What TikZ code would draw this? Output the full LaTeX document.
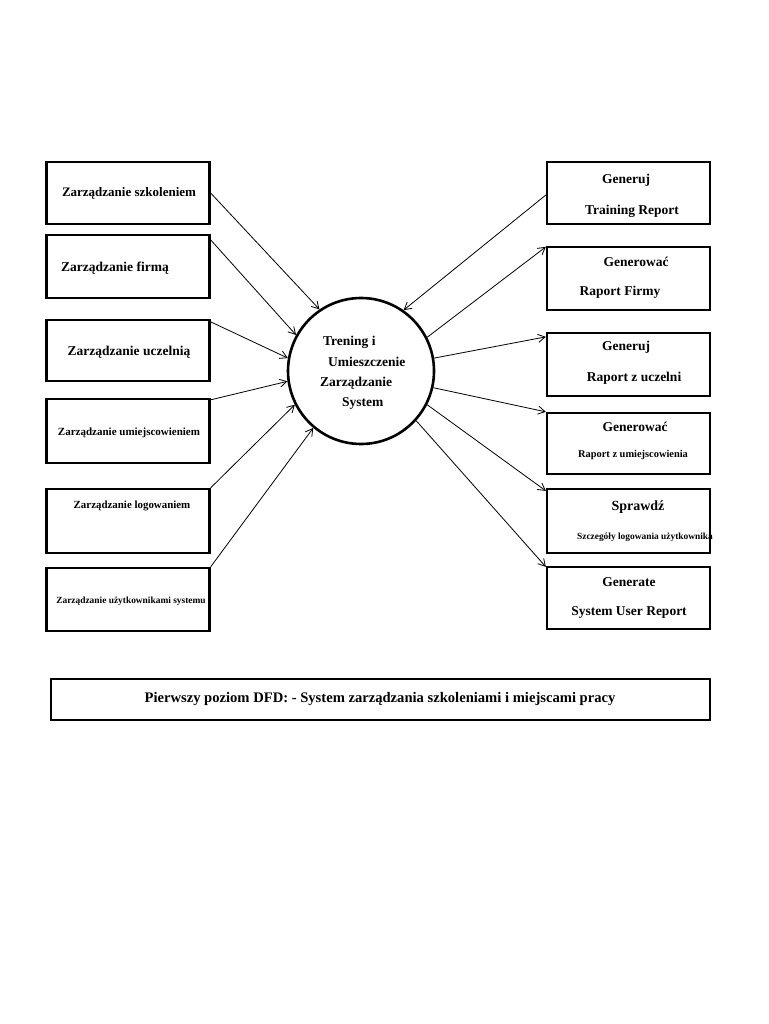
\documentclass[tikz,border=0pt]{standalone}
\usepackage{fontspec}
\setmainfont{Liberation Serif}
\usetikzlibrary{arrows.meta}
\newcommand{\fs}[1]{\bfseries\fontsize{#1}{#1}\selectfont}
\begin{document}
\begin{tikzpicture}[x=1pt,y=-1pt,
  box/.style={draw, line width=2.3pt, minimum width=163pt, inner sep=0pt},
  txt/.style={inner sep=0pt, font=\fs{13.5}},
  flow/.style={line width=0.8pt, -{Straight Barb[length=7pt,width=8pt]}}]
\useasboundingbox[fill=white] (0,0) rectangle (768,1024);

% left boxes
\node[box, minimum height=62pt] (l1) at (128,193) {};
\node[box, minimum height=63pt] (l2) at (128,266.5) {};
\node[box, minimum height=61pt] (l3) at (128,350.5) {};
\node[box, minimum height=64pt] (l4) at (128,431) {};
\node[box, minimum height=64pt] (l5) at (128,521) {};
\node[box, minimum height=63pt] (l6) at (128,599.5) {};

% right boxes
\node[box, minimum height=62pt] (r1) at (628.5,193) {};
\node[box, minimum height=63pt] (r2) at (628.5,278.5) {};
\node[box, minimum height=63pt] (r3) at (628.5,364.5) {};
\node[box, minimum height=61pt] (r4) at (628.5,443.5) {};
\node[box, minimum height=64pt] (r5) at (628.5,521) {};
\node[box, minimum height=62pt] (r6) at (628.5,598) {};

% bottom caption box
\node[box, minimum width=659pt, minimum height=41pt] (cap) at (380.5,699.5) {};
\node[txt, font=\fs{14.6}] (capt) at (380,699) {Pierwszy poziom DFD: - System zarządzania szkoleniami i miejscami pracy};

% central process
\node[circle, draw, line width=2.6pt, minimum size=146pt, inner sep=0pt] (c) at (361,371) {};
\node[txt, anchor=west] (c1) at (323,342) {Trening i};
\node[txt, anchor=west] (c2) at (328,362) {Umieszczenie};
\node[txt, anchor=west] (c3) at (320,383) {Zarządzanie};
\node[txt, anchor=west] (c4) at (342,403) {System};

% left texts
\node[txt, font=\fs{13}] (t1) at (129,193) {Zarządzanie szkoleniem};
\node[txt] (t2) at (115,268) {Zarządzanie firmą};
\node[txt] (t3) at (129,352) {Zarządzanie uczelnią};
\node[txt, font=\fs{11}] (t4) at (129,433) {Zarządzanie umiejscowieniem};
\node[txt, font=\fs{10.9}] (t5) at (132,506) {Zarządzanie logowaniem};
\node[txt, font=\fs{9.4}] (t6) at (131,601) {Zarządzanie użytkownikami systemu};

% right texts
\node[txt] (r1a) at (626,180) {Generuj};
\node[txt] (r1b) at (632,211) {Training Report};
\node[txt] (r2a) at (636,262) {Generować};
\node[txt] (r2b) at (620,292) {Raport Firmy};
\node[txt] (r3a) at (626,347) {Generuj};
\node[txt] (r3b) at (634,378) {Raport z uczelni};
\node[txt] (r4a) at (635,427) {Generować};
\node[txt, font=\fs{10.4}] (r4b) at (633,455) {Raport z umiejscowienia};
\node[txt, font=\fs{14}] (r5a) at (638,507) {Sprawdź};
\node[txt, font=\fs{9.4}] (r5b) at (645,537) {Szczegóły logowania użytkownika};
\node[txt] (r6a) at (629,582) {Generate};
\node[txt] (r6b) at (629,612) {System User Report};

% flows into process
\draw[flow] (l1.east) -- (c.124);
\draw[flow] ([yshift=-6pt]l2.north east) -- (c.151);
\draw[flow] ([yshift=-3pt]l3.north east) -- (c.170);
\draw[flow] ([yshift=-2pt]l4.north east) -- (c.188);
\draw[flow] (l5.north east) -- (c.207);
\draw[flow] (l6.north east) -- (c.230);
\draw[flow] ([yshift=-2pt]r1.west) -- (c.55);

% flows out of process
\draw[flow] (c.27) -- ([yshift=-1pt]r2.north west);
\draw[flow] (c.10) -- ([yshift=-5pt]r3.north west);
\draw[flow] (c.-13) -- (r4.north west);
\draw[flow] (c.-27) -- ([yshift=-3pt]r5.north west);
\draw[flow] (c.-42) -- ([yshift=-1pt]r6.north west);
\end{tikzpicture}
\end{document}
